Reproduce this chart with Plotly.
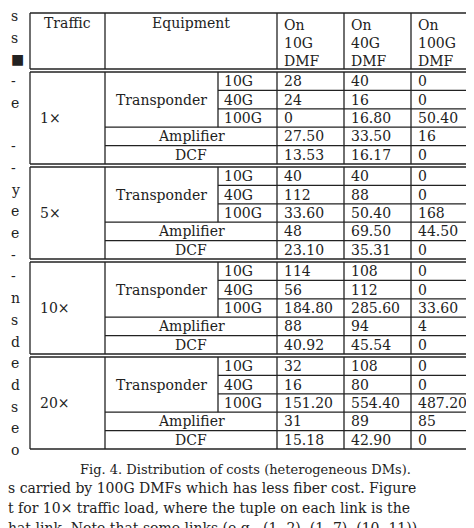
import plotly.graph_objects as go

traffic = ["1×", "5×", "10×", "20×"]
rates = ["10G", "40G", "100G"]
cols = ["On<br>10G<br>DMF", "On<br>40G<br>DMF", "On<br>100G<br>DMF"]
data = {
    "1×": [["28", "40", "0"], ["24", "16", "0"], ["0", "16.80", "50.40"], ["27.50", "33.50", "16"], ["13.53", "16.17", "0"]],
    "5×": [["40", "40", "0"], ["112", "88", "0"], ["33.60", "50.40", "168"], ["48", "69.50", "44.50"], ["23.10", "35.31", "0"]],
    "10×": [["114", "108", "0"], ["56", "112", "0"], ["184.80", "285.60", "33.60"], ["88", "94", "4"], ["40.92", "45.54", "0"]],
    "20×": [["32", "108", "0"], ["16", "80", "0"], ["151.20", "554.40", "487.20"], ["31", "89", "85"], ["15.18", "42.90", "0"]],
}
margin_chars = ["s", "s", "■", "-", "e", "", "-", "-", "y", "e", "e", "-", "-", "n", "s", "d", "e", "d", "s", "e", "o"]
caption = "Fig. 4. Distribution of costs (heterogeneous DMs)."
body = ["s carried by 100G DMFs which has less fiber cost. Figure",
        "t for 10× traffic load, where the tuple on each link is the",
        "hat link. Note that some links (e.g., (1, 2), (1, 7), (10, 11))"]

F = "DejaVu Serif"
X0, X1, X2, XV = 22, 97, 210, [269, 336, 403]
XR = 468
TOP, HB = 5, 61
G0, GH, RH = 64, 92, 18.4

fig = go.Figure()
shapes, ann = [], []
def line(xa, ya, xb, yb, w=1.3):
    shapes.append(dict(type="line", xref="x", yref="y", x0=xa, y0=ya, x1=xb, y1=yb,
                       line=dict(color="#222", width=w)))
def txt(x, y, s, anchor="left", size=14, xshift=0):
    ann.append(dict(x=x, y=y, xref="x", yref="y", text=s, showarrow=False, xanchor=anchor,
                    yanchor="middle", xshift=xshift,
                    font=dict(family=F, size=size, color="#222")))

# header
line(X0, TOP, XR, TOP); line(X0, HB, XR, HB)
for x in [X0, X1, XV[0], XV[1], XV[2], XR]:
    line(x, TOP, x, HB)
txt((X0 + X1) / 2, 15, "Traffic", "center")
txt((X1 + XV[0]) / 2, 15, "Equipment", "center")
for j, c in enumerate(cols):
    ann.append(dict(x=XV[j] + 5, y=TOP + 2, xref="x", yref="y", text=c, showarrow=False,
                    xanchor="left", yanchor="top", align="left",
                    font=dict(family=F, size=14, color="#222")))

for g, t in enumerate(traffic):
    y0 = G0 + g * (GH + 3)
    y1 = y0 + GH
    line(X0, y0, XR, y0); line(X0, y1, XR, y1)
    for x in [X0, X1, XV[0], XV[1], XV[2], XR]:
        line(x, y0, x, y1)
    line(X2, y0, X2, y0 + 3 * RH)
    for r in range(1, 5):
        xs = X2 if r < 3 else X1
        line(xs, y0 + r * RH, XR, y0 + r * RH)
    txt(X0 + 8, y0 + GH / 2, t)
    txt((X1 + X2) / 2, y0 + 1.5 * RH, "Transponder", "center")
    for r, rate in enumerate(rates):
        txt(X2 + 4, y0 + (r + 0.5) * RH, rate)
    txt((X1 + XV[0]) / 2, y0 + 3.5 * RH, "Amplifier", "center")
    txt((X1 + XV[0]) / 2, y0 + 4.5 * RH, "DCF", "center")
    for r, row in enumerate(data[t]):
        for j, v in enumerate(row):
            txt(XV[j] + 5, y0 + (r + 0.5) * RH, v)

txt(237, 461, caption, "center", 13)
for i, b in enumerate(body):
    txt(1, 480 + i * 20, b, "left", 14, xshift=-3)
for i, m in enumerate(margin_chars):
    txt(1, 8 + i * 21.7, m, "left", 14)

fig.update_layout(shapes=shapes, annotations=ann, width=474, height=528,
                  margin=dict(l=0, r=0, t=0, b=0), plot_bgcolor="white", paper_bgcolor="white",
                  xaxis=dict(range=[0, 474], visible=False, fixedrange=True),
                  yaxis=dict(range=[528, 0], visible=False, fixedrange=True), showlegend=False)
fig.write_html("out.html")
